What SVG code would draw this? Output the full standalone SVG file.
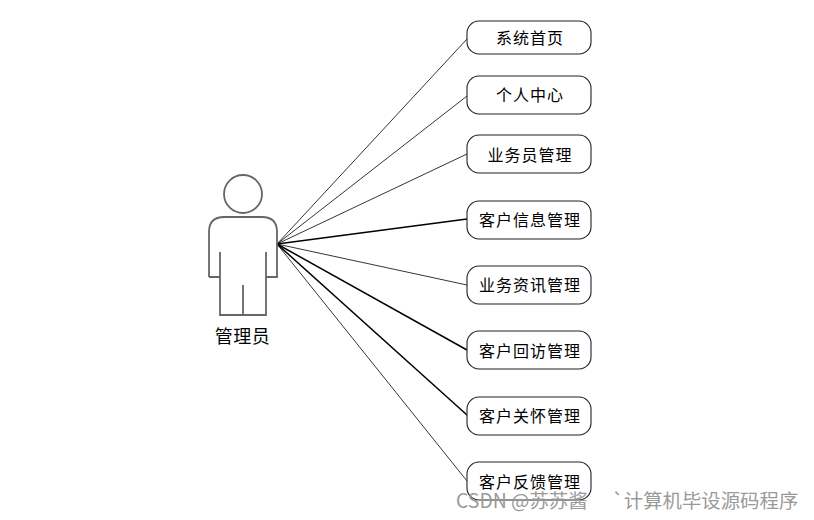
<svg xmlns="http://www.w3.org/2000/svg" width="814" height="520" viewBox="0 0 814 520">
<style>
.n{fill:#fff;stroke:#222;stroke-width:1.1}
.t{font-family:"Noto Sans CJK SC","Liberation Sans",sans-serif;font-size:16px;fill:#000;text-anchor:middle;letter-spacing:1px}
.c{stroke:#000;fill:none;stroke-width:.8}
.h{stroke-width:1.5}
.a{fill:none;stroke:#666;stroke-width:1.8}
.w{font-family:"Noto Sans CJK SC","Liberation Sans",sans-serif;font-size:19.4px;fill:#9a9a9a}
</style>
<rect width="814" height="520" fill="#fff"/>
<g id="connectors">
<line class="c" x1="277" y1="244" x2="467" y2="39"/>
<line class="c" x1="277" y1="244" x2="467" y2="96"/>
<line class="c" x1="277" y1="244" x2="467" y2="154"/>
<line class="c h" x1="277" y1="244" x2="467" y2="219"/>
<line class="c" x1="277" y1="244" x2="467" y2="285"/>
<line class="c h" x1="277" y1="244" x2="467" y2="350"/>
<line class="c h" x1="277" y1="244" x2="467" y2="415"/>
<line class="c" x1="277" y1="244" x2="467" y2="481"/>
</g>
<g id="actor">
<circle class="a" cx="243" cy="194" r="19"/>
<path class="a" d="M209 277V232Q209 217 224 217H262Q277 217 277 232V277H266M209 277H220M220 252V315H266V252M243 285V315"/>
<text class="t" x="242.500" y="343" style="font-size:18px;letter-spacing:.5px">管理员</text>
</g>
<g id="n1"><rect class="n" x="467" y="21" width="124" height="33" rx="12"/><text class="t" x="530" y="44">系统首页</text></g>
<g id="n2"><rect class="n" x="467" y="76" width="124" height="38" rx="12"/><text class="t" x="530" y="101">个人中心</text></g>
<g id="n3"><rect class="n" x="467" y="135" width="124" height="38" rx="12"/><text class="t" x="530" y="161">业务员管理</text></g>
<g id="n4"><rect class="n" x="467" y="201" width="124" height="38" rx="12"/><text class="t" x="530" y="226">客户信息管理</text></g>
<g id="n5"><rect class="n" x="467" y="266" width="124" height="38" rx="12"/><text class="t" x="530" y="291">业务资讯管理</text></g>
<g id="n6"><rect class="n" x="467" y="331" width="124" height="38" rx="12"/><text class="t" x="530" y="357">客户回访管理</text></g>
<g id="n7"><rect class="n" x="467" y="397" width="124" height="38" rx="12"/><text class="t" x="530" y="422">客户关怀管理</text></g>
<g id="n8"><rect class="n" x="467" y="462" width="124" height="38" rx="12"/><text class="t" x="530" y="488">客户反馈管理</text></g>
<text class="w" x="456" y="508">CSDN @苏苏酱</text>
<text class="w" x="612" y="508">`计算机毕设源码程序</text>
</svg>
